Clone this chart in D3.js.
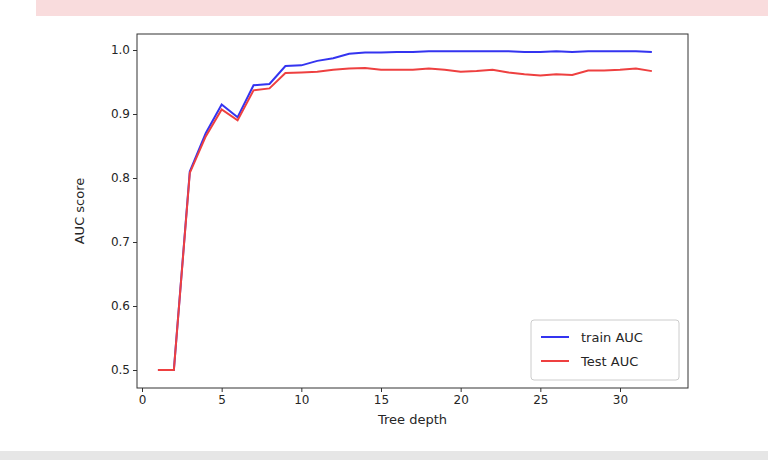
<!DOCTYPE html>
<html><head><meta charset="utf-8">
<script src="https://cdn.jsdelivr.net/npm/d3@7"></script>
<style>body{margin:0;background:#fff}svg{display:block}text{font-family:"DejaVu Sans",sans-serif;fill:#262626}</style>
</head><body><svg id="c" width="768" height="460"></svg>
<script>
const depths = d3.range(1, 33);
const trainAUC = [0.5,0.5,0.81,0.87,0.915,0.895,0.945,0.947,0.975,0.976,0.983,0.987,0.994,0.996,0.996,0.997,0.997,0.998,0.998,0.998,0.998,0.998,0.998,0.997,0.997,0.998,0.997,0.998,0.998,0.998,0.998,0.997];
const testAUC = [0.5,0.5,0.808,0.865,0.907,0.89,0.937,0.94,0.964,0.965,0.966,0.969,0.971,0.972,0.969,0.969,0.969,0.971,0.969,0.966,0.967,0.969,0.965,0.962,0.960,0.962,0.961,0.968,0.968,0.969,0.971,0.967];
const xTicks = [0,5,10,15,20,25,30];
const yTicks = [0.5,0.6,0.7,0.8,0.9,1.0];

const svg = d3.select("#c");
svg.append("rect").attr("x",36).attr("y",0).attr("width",732).attr("height",16).attr("fill","#f9dcdd");
svg.append("rect").attr("x",0).attr("y",451).attr("width",768).attr("height",9).attr("fill","#e6e6e6");

const L=137,R=688,T=34,B=388;
const x = d3.scaleLinear().domain([0,30]).range([142,620]);
const y = d3.scaleLinear().domain([0.5,1.0]).range([370,50]);

const gx = svg.append("g").attr("transform",`translate(0,${B})`).call(d3.axisBottom(x).tickValues(xTicks).tickSize(4));
const gy = svg.append("g").attr("transform",`translate(${L},0)`).call(d3.axisLeft(y).tickValues(yTicks).tickFormat(d3.format(".1f")).tickSize(4));
[gx,gy].forEach(g=>{g.select(".domain").remove();g.selectAll("text").attr("font-size",12).attr("font-family","DejaVu Sans");g.selectAll("line").attr("stroke","#333");});
svg.append("rect").attr("x",L).attr("y",T).attr("width",R-L).attr("height",B-T).attr("fill","none").attr("stroke","#333").attr("stroke-width",1);

const line = vals => d3.line().x((d,i)=>x(depths[i])).y(d=>y(d))(vals);
svg.append("path").attr("d",line(trainAUC)).attr("fill","none").attr("stroke","#3434f0").attr("stroke-width",2);
svg.append("path").attr("d",line(testAUC)).attr("fill","none").attr("stroke","#ee4040").attr("stroke-width",2);

svg.append("text").attr("x",(L+R)/2).attr("y",424).attr("text-anchor","middle").attr("font-size",13).text("Tree depth");
svg.append("text").attr("transform",`translate(84,${(T+B)/2}) rotate(-90)`).attr("text-anchor","middle").attr("font-size",13).text("AUC score");

const lg = svg.append("g").attr("transform","translate(531,320)");
lg.append("rect").attr("width",148).attr("height",60).attr("rx",3).attr("fill","#fff").attr("stroke","#ccc");
[["train AUC","#3434f0"],["Test AUC","#ee4040"]].forEach((e,i)=>{
  const yy=17+i*24;
  lg.append("line").attr("x1",10).attr("x2",38).attr("y1",yy).attr("y2",yy).attr("stroke",e[1]).attr("stroke-width",2);
  lg.append("text").attr("x",50).attr("y",yy+5).attr("font-size",13).text(e[0]);
});
</script></body></html>
